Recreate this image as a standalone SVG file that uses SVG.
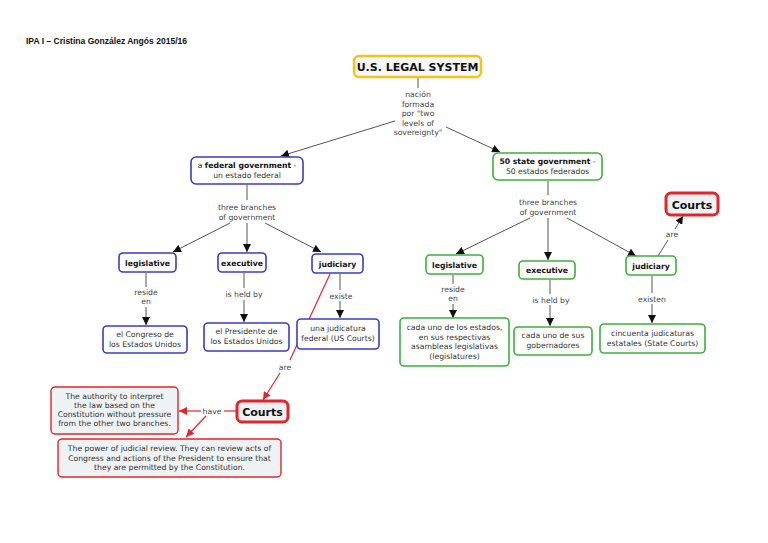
<svg xmlns="http://www.w3.org/2000/svg" width="768" height="543" viewBox="0 0 768 543">
<style>
text{font-family:"DejaVu Sans",Verdana,sans-serif;fill:#333;text-anchor:middle}
.t{font-size:7.7px}
.b{font-size:7.7px;font-weight:bold;fill:#111}
.lbl{font-size:7.7px;fill:#444}
.blue{fill:#fff;stroke:#3b3bc4;stroke-width:1.6}
.green{fill:#fff;stroke:#3fae3f;stroke-width:1.6}
.red{fill:#eef2f5;stroke:#e0262b;stroke-width:1.4}
.redb{fill:#eef2f5;stroke:#e0262b;stroke-width:3}
.c{stroke:#555;stroke-width:1;fill:none}
.cr{stroke:#e0262b;stroke-width:1.2;fill:none}
</style>
<defs>
<marker id="a" viewBox="0 0 10 10" refX="10" refY="5" markerWidth="8" markerHeight="8" orient="auto" markerUnits="userSpaceOnUse"><path d="M0,0L10,5L0,10z" fill="#111"/></marker>
<marker id="ar" viewBox="0 0 10 10" refX="10" refY="5" markerWidth="8" markerHeight="8" orient="auto" markerUnits="userSpaceOnUse"><path d="M0,0L10,5L0,10z" fill="#e0262b"/></marker>
</defs>
<rect width="768" height="543" fill="#fff"/>
<text x="26" y="44" style="font-family:'Liberation Sans',Arial,sans-serif;font-size:8.5px;font-weight:bold;text-anchor:start;fill:#111" textLength="161" lengthAdjust="spacingAndGlyphs">IPA I – Cristina González Angós 2015/16</text>

<g id="connectors">
<path class="c" d="M418,77V88"/>
<path class="c" d="M395,121L281,156" marker-end="url(#a)"/>
<path class="c" d="M446,127L500,152" marker-end="url(#a)"/>
<path class="c" d="M247,185V200"/>
<path class="c" d="M230,223L173,252" marker-end="url(#a)"/>
<path class="c" d="M247,223V252" marker-end="url(#a)"/>
<path class="c" d="M265,223L321,252" marker-end="url(#a)"/>
<path class="c" d="M146,273V287"/>
<path class="c" d="M146,307V325" marker-end="url(#a)"/>
<path class="c" d="M244,273V288"/>
<path class="c" d="M244,300V322" marker-end="url(#a)"/>
<path class="c" d="M340,274V290"/>
<path class="c" d="M340,301V318" marker-end="url(#a)"/>
<path class="c" d="M548,181V195"/>
<path class="c" d="M530,218L456,254" marker-end="url(#a)"/>
<path class="c" d="M548,218V260" marker-end="url(#a)"/>
<path class="c" d="M567,218L636,256" marker-end="url(#a)"/>
<path class="c" d="M453,275V284"/>
<path class="c" d="M453,304V318" marker-end="url(#a)"/>
<path class="c" d="M550,280V294"/>
<path class="c" d="M550,305V326" marker-end="url(#a)"/>
<path class="c" d="M652,276V293"/>
<path class="c" d="M652,304V323" marker-end="url(#a)"/>
<path class="c" d="M658,256L668,240"/>
<path class="c" d="M675,229L683,216" marker-end="url(#a)"/>
<path class="cr" d="M330,274L290,360"/>
<path class="cr" d="M280,373L263,400" marker-end="url(#ar)"/>
<path class="cr" d="M237,411H224"/>
<path class="cr" d="M201,411H179" marker-end="url(#ar)"/>
<path class="cr" d="M206,416L186,437" marker-end="url(#ar)"/>
<text class="lbl" x="418" y="97">nación</text>
<text class="lbl" x="418" y="106.5">formada</text>
<text class="lbl" x="418" y="116">por "two</text>
<text class="lbl" x="418" y="125.5">levels of</text>
<text class="lbl" x="418" y="135">sovereignty"</text>
<text class="lbl" x="247" y="210">three branches</text>
<text class="lbl" x="247" y="220">of government</text>
<text class="lbl" x="548" y="205">three branches</text>
<text class="lbl" x="548" y="215">of government</text>
<text class="lbl" x="146" y="295">reside</text>
<text class="lbl" x="146" y="304">en</text>
<text class="lbl" x="244" y="297">is held by</text>
<text class="lbl" x="341" y="299">existe</text>
<text class="lbl" x="453" y="292">reside</text>
<text class="lbl" x="453" y="301">en</text>
<text class="lbl" x="551" y="303">is held by</text>
<text class="lbl" x="652" y="302">existen</text>
<text class="lbl" x="672" y="237">are</text>
<text class="lbl" x="285" y="370">are</text>
<text class="lbl" x="212" y="414">have</text>
</g>

<g id="root"><rect x="354" y="56" width="127" height="21" rx="5" fill="#f7f7f7" stroke="#f2c41a" stroke-width="2.5"/><text x="417.5" y="71" style="font-size:11px;font-weight:bold;fill:#111">U.S. LEGAL SYSTEM</text></g>

<g id="federal"><rect class="blue" x="191" y="157" width="112" height="27" rx="5"/><text class="t" x="247" y="168"><tspan>a </tspan><tspan style="font-weight:bold;fill:#111">federal government</tspan><tspan> -</tspan></text><text class="t" x="247" y="178">un estado federal</text></g>
<g id="f-leg"><rect class="blue" x="119" y="253" width="57" height="19" rx="4"/><text class="b" x="147.5" y="265.5">legislative</text></g>
<g id="f-exe"><rect class="blue" x="218" y="253" width="48" height="19" rx="4"/><text class="b" x="242" y="265.5">executive</text></g>
<g id="f-jud"><rect class="blue" x="312" y="254" width="51" height="19" rx="4"/><text class="b" x="337.5" y="266.5">judiciary</text></g>
<g id="f-congreso"><rect class="blue" x="103" y="326" width="84" height="27" rx="4"/><text class="t" x="145" y="337">el Congreso de</text><text class="t" x="145" y="347">los Estados Unidos</text></g>
<g id="f-presidente"><rect class="blue" x="204" y="323" width="85" height="28" rx="4"/><text class="t" x="246.5" y="334">el Presidente de</text><text class="t" x="246.5" y="344">los Estados Unidos</text></g>
<g id="f-judicatura"><rect class="blue" x="297" y="319" width="82" height="30" rx="4"/><text class="t" x="338" y="331">una judicatura</text><text class="t" x="338" y="341">federal (US Courts)</text></g>

<g id="state"><rect class="green" x="493" y="153" width="109" height="27" rx="5"/><text class="t" x="547.5" y="164"><tspan style="font-weight:bold;fill:#111">50 state government</tspan><tspan> -</tspan></text><text class="t" x="547.5" y="174">50 estados federados</text></g>
<g id="s-leg"><rect class="green" x="426" y="255" width="57" height="19" rx="4"/><text class="b" x="454.5" y="267.5">legislative</text></g>
<g id="s-exe"><rect class="green" x="519" y="261" width="56" height="18" rx="4"/><text class="b" x="547" y="273">executive</text></g>
<g id="s-jud"><rect class="green" x="626" y="256" width="50" height="19" rx="4"/><text class="b" x="651" y="268.5">judiciary</text></g>
<g id="s-estados"><rect class="green" x="400" y="318" width="109" height="48" rx="4"/><text class="t" x="454.5" y="330">cada uno de los estados,</text><text class="t" x="454.5" y="339.5">en sus respectivas</text><text class="t" x="454.5" y="349">asambleas legislativas</text><text class="t" x="454.5" y="358.5">(legislatures)</text></g>
<g id="s-gober"><rect class="green" x="514" y="327" width="78" height="28" rx="4"/><text class="t" x="553" y="338">cada uno de sus</text><text class="t" x="553" y="348">gobernadores</text></g>
<g id="s-cincuenta"><rect class="green" x="600" y="324" width="105" height="29" rx="4"/><text class="t" x="652.5" y="336">cincuenta judicaturas</text><text class="t" x="652.5" y="346">estatales (State Courts)</text></g>
<g id="s-courts"><rect class="redb" x="666" y="193" width="52" height="22" rx="5"/><text x="692" y="208.5" style="font-size:11px;font-weight:bold;fill:#111">Courts</text></g>

<g id="courts"><rect class="redb" x="237" y="401" width="51" height="21" rx="5"/><text x="262.5" y="416" style="font-size:11px;font-weight:bold;fill:#111">Courts</text></g>
<g id="authority"><rect class="red" x="51" y="387" width="127" height="47" rx="4"/><text class="t" x="114.5" y="399">The authority to interpret</text><text class="t" x="114.5" y="408">the law based on the</text><text class="t" x="114.5" y="417">Constitution without pressure</text><text class="t" x="114.5" y="426">from the other two branches.</text></g>
<g id="power"><rect class="red" x="58" y="439" width="223" height="38" rx="4"/><text class="t" x="169.5" y="451">The power of judicial review. They can review acts of</text><text class="t" x="169.5" y="460.5">Congress and actions of the President to ensure that</text><text class="t" x="169.5" y="470">they are permitted by the Constitution.</text></g>
</svg>
